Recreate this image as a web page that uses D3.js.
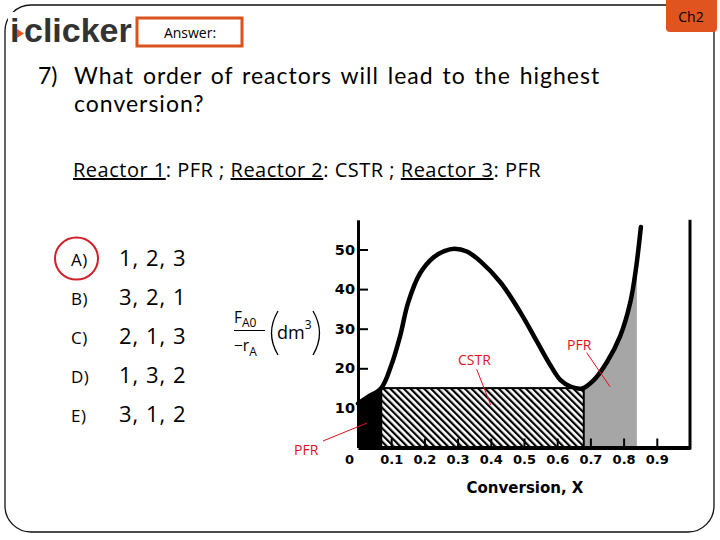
<!DOCTYPE html>
<html>
<head>
<meta charset="utf-8">
<script src="https://cdn.jsdelivr.net/npm/d3@7"></script>
<style>
body{margin:0;background:#fff}
text{font-family:"Open Sans",Lato,sans-serif}
.fig text{font-family:"DejaVu Sans",sans-serif;font-weight:bold}
.q{font-family:Lato,"Open Sans",sans-serif}
</style>
</head>
<body>
<svg width="720" height="540"></svg>
<script>
// curve: X vs FA0/-rA (dm3)
var convX   = [0, 0.03, 0.07, 0.10, 0.127, 0.151, 0.187, 0.227, 0.26, 0.29, 0.328, 0.369, 0.43, 0.49, 0.54, 0.58, 0.61, 0.64, 0.675, 0.71, 0.75, 0.79, 0.82, 0.837, 0.852];
var levFA0  = [11.1, 12.8, 15, 20.7, 28.2, 36.6, 44, 48, 49.6, 50.2, 49.5, 47, 41.6, 34, 26.6, 20.7, 17, 15.4, 14.9, 17, 21.6, 28.2, 36.6, 45, 55.7];

// reactor sections
var pfr1Range = [0, 0.07];
var cstrRange = [0.07, 0.68];
var cstrLevel = 15;
var pfr2Range = [0.68, 0.84];

var xTicks = [0, 0.1, 0.2, 0.3, 0.4, 0.5, 0.6, 0.7, 0.8, 0.9];
var yTicks = [10, 20, 30, 40, 50];

var choiceLetters = ["A)", "B)", "C)", "D)", "E)"];
var choiceOrders  = ["1, 2, 3", "3, 2, 1", "2, 1, 3", "1, 3, 2", "3, 1, 2"];
var correctChoice = 0;

var svg = d3.select("svg");
var red = "#e3101c";
var orange = "#d9531e";

// slide frame
svg.append("rect")
  .attr("x", 5).attr("y", 5).attr("width", 709).attr("height", 527)
  .attr("rx", 26).attr("ry", 26)
  .attr("fill", "none").attr("stroke", "#111").attr("stroke-width", 1.3);

// logo
svg.append("rect").attr("x", 8).attr("y", 12).attr("width", 128).attr("height", 36).attr("fill", "#fff");
svg.append("text").attr("x", 10).attr("y", 42)
  .style("font-family", "'Liberation Sans',Arial,sans-serif").style("font-weight", "bold")
  .style("font-size", "34px").attr("fill", "#333").text("i");
svg.append("path").attr("d", "M17,29 L24,33.5 L17,38 Z").attr("fill", "#e8561c");
svg.append("text").attr("x", 24).attr("y", 42)
  .style("font-family", "'Liberation Sans',Arial,sans-serif").style("font-weight", "bold")
  .style("font-size", "34px").attr("fill", "#333").text("clicker");

// answer box
svg.append("rect").attr("x", 137).attr("y", 18).attr("width", 105).attr("height", 28)
  .attr("fill", "#fff").attr("stroke", orange).attr("stroke-width", 3);
svg.append("text").attr("x", 190).attr("y", 38).attr("text-anchor", "middle")
  .style("font-size", "14px").text("Answer:");

// Ch2 tab
svg.append("path").attr("d", "M666,0 L717,0 L717,28 Q717,32 713,32 L670,32 Q666,32 666,28 Z")
  .attr("fill", "#e0551f");
svg.append("text").attr("x", 691).attr("y", 22).attr("text-anchor", "middle")
  .style("font-size", "14px").text("Ch2");

// question (one paragraph, two lines)
svg.append("text").attr("class", "q").attr("x", 38).attr("y", 84).style("font-size", "23px").text("7)");
var q = svg.append("text").attr("class", "q").attr("y", 84).style("font-size", "23px")
  .style("letter-spacing", "1px").style("word-spacing", "2px");
q.append("tspan").attr("x", 74).text("What order of reactors will lead to the highest");
q.append("tspan").attr("x", 74).attr("dy", 28).text("conversion?");

var rl = svg.append("text").attr("x", 73).attr("y", 177).style("font-size", "20px").style("letter-spacing", "0.5px");
rl.append("tspan").style("text-decoration", "underline").text("Reactor 1");
rl.append("tspan").text(": PFR ; ");
rl.append("tspan").style("text-decoration", "underline").text("Reactor 2");
rl.append("tspan").text(": CSTR ; ");
rl.append("tspan").style("text-decoration", "underline").text("Reactor 3");
rl.append("tspan").text(": PFR");

// answer choices
var rowY = d3.scaleBand().domain(choiceLetters).range([239, 435]);
var rows = svg.selectAll("g.choice").data(choiceLetters).join("g")
  .attr("class", "choice")
  .attr("transform", function(d){ return "translate(0," + (rowY(d) + rowY.bandwidth()/2) + ")"; });
rows.append("text").attr("x", 71).attr("y", 7).style("font-size", "17px").style("letter-spacing", "0.5px")
  .text(function(d){ return d; });
rows.append("text").attr("x", 119).attr("y", 7).style("font-size", "22px").style("letter-spacing", "1px")
  .text(function(d, i){ return choiceOrders[i]; });
svg.append("ellipse")
  .attr("cx", 76.5).attr("cy", rowY(choiceLetters[correctChoice]) + rowY.bandwidth()/2)
  .attr("rx", 21.5).attr("ry", 21)
  .attr("fill", "none").attr("stroke", "#d0202a").attr("stroke-width", 2);

// y-axis label  FA0/-rA (dm3)
var yl = svg.append("g");
var t1 = yl.append("text").attr("x", 234).attr("y", 323).style("font-size", "15.5px");
t1.append("tspan").text("F");
t1.append("tspan").attr("dy", 4).style("font-size", "12px").text("A0");
yl.append("line").attr("x1", 234).attr("x2", 265).attr("y1", 330.5).attr("y2", 330.5)
  .attr("stroke", "#000").attr("stroke-width", 1);
var t2 = yl.append("text").attr("x", 234).attr("y", 351).style("font-size", "15.5px");
t2.append("tspan").text("\u2212r");
t2.append("tspan").attr("dy", 5).style("font-size", "12px").text("A");
yl.append("path").attr("d", "M278,311 Q265,333 278,355").attr("fill", "none").attr("stroke", "#000").attr("stroke-width", 1.3);
yl.append("path").attr("d", "M313,311 Q326,333 313,355").attr("fill", "none").attr("stroke", "#000").attr("stroke-width", 1.3);
var t3 = yl.append("text").attr("x", 277).attr("y", 339).style("font-size", "18px");
t3.append("tspan").text("dm");
t3.append("tspan").attr("dy", -10).style("font-size", "12px").text("3");

// ---- figure ----
var fig = svg.append("g").attr("class", "fig");
var x = d3.scaleLinear().domain([0, 1]).range([358, 690]);
var y = d3.scaleLinear().domain([0, 57.5]).range([447.5, 219.8]);

var xAxis = d3.axisBottom(x).tickValues(xTicks).tickSize(-9).tickSizeOuter(0).tickPadding(7)
  .tickFormat(function(d){ return d === 0 ? "0" : d.toFixed(1); });
var gx = fig.append("g").attr("transform", "translate(0," + y(0) + ")").call(xAxis);
gx.selectAll("text").style("font-size", "13px").attr("fill", "#000")
  .attr("dx", function(d){ return d === 0 ? -9 : 0; });
gx.selectAll(".tick line").attr("stroke-width", 2);

var yAxis = d3.axisLeft(y).tickValues(yTicks).tickSize(-10).tickSizeOuter(0).tickPadding(3);
var gy = fig.append("g").attr("transform", "translate(" + x(0) + ",0)").call(yAxis);
gy.selectAll("text").style("font-size", "14.5px").attr("fill", "#000");
gy.selectAll(".tick line").attr("stroke-width", 2);

var pts = convX.map(function(v, i){ return [v, levFA0[i]]; });
var curve = d3.curveCatmullRom.alpha(0.5);

// clip paths for the two PFR areas
var defs = svg.append("defs");
[["clipPfr1", pfr1Range], ["clipPfr2", pfr2Range]].forEach(function(c){
  defs.append("clipPath").attr("id", c[0]).append("rect")
    .attr("x", x(c[1][0])).attr("y", y.range()[1])
    .attr("width", x(c[1][1]) - x(c[1][0])).attr("height", y(0) - y.range()[1]);
});
var hatch = defs.append("pattern").attr("id", "hatch").attr("patternUnits", "userSpaceOnUse")
  .attr("width", 4.8).attr("height", 4.8).attr("patternTransform", "rotate(-45)");
hatch.append("rect").attr("width", 4.8).attr("height", 4.8).attr("fill", "#fff");
hatch.append("rect").attr("width", 2.2).attr("height", 4.8).attr("fill", "#000");

var area = d3.area().x(function(d){ return x(d[0]); })
  .y0(y(0)).y1(function(d){ return y(d[1]); }).curve(curve);

fig.append("path").datum(pts).attr("d", area).attr("fill", "#000").attr("clip-path", "url(#clipPfr1)");
fig.append("path").datum(pts).attr("d", area).attr("fill", "#a6a6a6").attr("clip-path", "url(#clipPfr2)");

fig.append("rect")
  .attr("x", x(cstrRange[0])).attr("y", y(cstrLevel))
  .attr("width", x(cstrRange[1]) - x(cstrRange[0])).attr("height", y(0) - y(cstrLevel))
  .attr("fill", "url(#hatch)").attr("stroke", "#000").attr("stroke-width", 2);

var line = d3.line().x(function(d){ return x(d[0]); }).y(function(d){ return y(d[1]); }).curve(curve);
fig.append("path").datum(pts).attr("d", line)
  .attr("fill", "none").attr("stroke", "#000").attr("stroke-width", 4.5).attr("stroke-linecap", "round");

// frame lines drawn over fills
gx.select(".domain").attr("stroke-width", 4);
gy.select(".domain").attr("stroke-width", 3);
gx.raise(); gy.raise();
fig.append("line").attr("x1", x(1)).attr("x2", x(1)).attr("y1", y.range()[1]).attr("y2", y(0) + 2)
  .attr("stroke", "#000").attr("stroke-width", 3);

fig.append("text").attr("x", 525).attr("y", 493).attr("text-anchor", "middle")
  .style("font-size", "15px").text("Conversion, X");

// red annotations
var notes = svg.append("g");
function note(label, tx, ty, x1, y1, x2, y2){
  notes.append("text").attr("x", tx).attr("y", ty).style("font-size", "14px").attr("fill", red).text(label);
  notes.append("line").attr("x1", x1).attr("y1", y1).attr("x2", x2).attr("y2", y2)
    .attr("stroke", red).attr("stroke-width", 1);
}
note("PFR", 294, 455, 323, 441, 367, 423);
note("CSTR", 458, 365, 476.7, 369.3, 490.7, 405);
note("PFR", 567, 350, 586.7, 352.7, 610, 386.7);
</script>
</body>
</html>
